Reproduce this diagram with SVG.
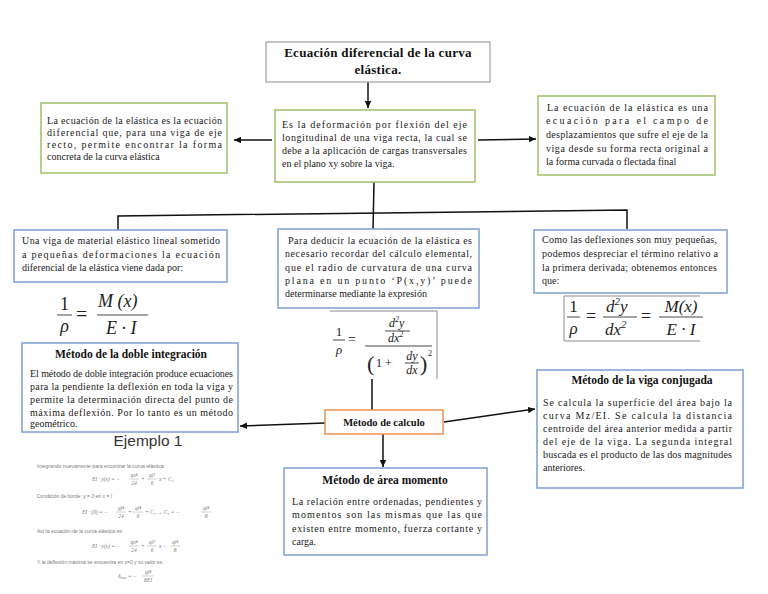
<svg xmlns="http://www.w3.org/2000/svg" width="768" height="594" viewBox="0 0 768 594">
<style>
.t{font-family:"Liberation Serif","Times New Roman",serif;font-size:10px;fill:#1a1a1a}
.b{font-family:"Liberation Serif","Times New Roman",serif;font-weight:bold;fill:#111}
.m{font-family:"Liberation Serif","Times New Roman",serif;fill:#222}
.i{font-style:italic}
.g{fill:#fff;stroke:#9cc06a;stroke-width:1.5}
.bl{fill:#fff;stroke:#7f9fcf;stroke-width:1.5}
.gr{fill:#fff;stroke:#a6a6a6;stroke-width:1.3}
.or{fill:#fff;stroke:#e89150;stroke-width:1.5}
.c{stroke:#111;stroke-width:1.5;fill:none}
.bar{stroke:#333;stroke-width:0.9}
.e{font-family:"Liberation Sans",Arial,sans-serif;font-size:5px;fill:#7a7a7a}
.ef{font-family:"Liberation Serif",serif;font-size:5.5px;fill:#7a7a7a;font-style:italic}
.eb{stroke:#8a8a8a;stroke-width:0.4}
</style>
<defs>
<marker id="ar" markerWidth="8" markerHeight="8" refX="7" refY="4" orient="auto" markerUnits="userSpaceOnUse">
<path d="M0,0.8 L7,4 L0,7.2 Z" fill="#111"/>
</marker>
</defs>
<rect width="768" height="594" fill="#fff"/>

<g id="connectors">
<line class="c" x1="368" y1="82" x2="368" y2="108" marker-end="url(#ar)"/>
<line class="c" x1="272" y1="140" x2="234" y2="140" marker-end="url(#ar)"/>
<line class="c" x1="478" y1="140" x2="536" y2="139" marker-end="url(#ar)"/>
<line class="c" x1="374" y1="182" x2="373" y2="230"/>
<polyline class="c" points="118,230 118,216 627,210 627,229"/>
<line class="c" x1="372" y1="379" x2="372" y2="410"/>
<line class="c" x1="325" y1="423" x2="240" y2="426" marker-end="url(#ar)"/>
<line class="c" x1="444" y1="422" x2="535" y2="409" marker-end="url(#ar)"/>
<line class="c" x1="383" y1="434" x2="383" y2="467" marker-end="url(#ar)"/>
</g>

<g id="title">
<rect class="gr" x="266" y="42" width="224" height="40"/>
<text class="b" x="378" y="57" font-size="13" text-anchor="middle" letter-spacing="0.3">Ecuación diferencial de la curva</text>
<text class="b" x="378" y="74" font-size="13" text-anchor="middle" letter-spacing="0.3">elástica.</text>
</g>

<g id="def-left">
<rect class="g" x="41" y="103" width="186" height="70"/>
<text class="t" x="47" y="124" textLength="175" lengthAdjust="spacing">La ecuación de la elástica es la ecuación</text>
<text class="t" x="47" y="136" textLength="175" lengthAdjust="spacing">diferencial que, para una viga de eje</text>
<text class="t" x="47" y="148" textLength="175" lengthAdjust="spacing">recto, permite encontrar la forma</text>
<text class="t" x="47" y="160">concreta de la curva elástica</text>
</g>

<g id="def-center">
<rect class="g" x="275" y="110" width="200" height="72"/>
<text class="t" x="282" y="128" textLength="185" lengthAdjust="spacing">Es la deformación  por flexión del eje</text>
<text class="t" x="282" y="141" textLength="185" lengthAdjust="spacing">longitudinal de una viga recta, la cual se</text>
<text class="t" x="282" y="154" textLength="185" lengthAdjust="spacing">debe a la aplicación de cargas transversales</text>
<text class="t" x="282" y="167">en el plano xy sobre la viga.</text>
</g>

<g id="def-right">
<rect class="g" x="538" y="96" width="177" height="79"/>
<text class="t" x="547" y="111" textLength="161" lengthAdjust="spacing">La ecuación de la elástica es una</text>
<text class="t" x="546" y="124" textLength="162" lengthAdjust="spacing">ecuación para el campo de</text>
<text class="t" x="546" y="138" textLength="162" lengthAdjust="spacing">desplazamientos que sufre el eje de la</text>
<text class="t" x="546" y="152" textLength="162" lengthAdjust="spacing">viga desde su forma recta original a</text>
<text class="t" x="546" y="165">la forma curvada o flectada final</text>
</g>

<g id="viga-lineal">
<rect class="bl" x="14" y="230" width="213" height="52"/>
<text class="t" x="22" y="244" textLength="198" lengthAdjust="spacing">Una viga de material elástico lineal sometido</text>
<text class="t" x="22" y="258" textLength="198" lengthAdjust="spacing">a pequeñas deformaciones la ecuación</text>
<text class="t" x="22" y="271">diferencial de la elástica viene dada por:</text>
</g>

<g id="formula-left">
<text class="m" x="64.5" y="310" font-size="18" text-anchor="middle">1</text>
<line class="bar" x1="57" y1="315" x2="72" y2="315" stroke-width="1.2"/>
<text class="m i" x="64.5" y="332" font-size="18" text-anchor="middle">ρ</text>
<text class="m" x="76" y="321" font-size="20">=</text>
<text class="m i" x="98" y="307" font-size="18">M (x)</text>
<line class="bar" x1="97" y1="315" x2="148" y2="315" stroke-width="1.2"/>
<text class="m i" x="106" y="334" font-size="18">E · I</text>
</g>

<g id="radio-curvatura">
<rect class="bl" x="278" y="229" width="201" height="79"/>
<text class="t" x="288" y="244" textLength="184" lengthAdjust="spacing">Para deducir la ecuación de la elástica es</text>
<text class="t" x="285" y="257" textLength="187" lengthAdjust="spacing">necesario recordar del cálculo elemental,</text>
<text class="t" x="285" y="271" textLength="187" lengthAdjust="spacing">que el radio de curvatura de una curva</text>
<text class="t" x="285" y="284" textLength="187" lengthAdjust="spacing">plana en un punto ‘P(x,y)’ puede</text>
<text class="t" x="285" y="297">determinarse mediante la expresión</text>
</g>

<g id="formula-center">
<polyline points="330,311 437,311 437,379" fill="none" stroke="#8a8a8a" stroke-width="1"/>
<text class="m" x="339" y="336" font-size="13" text-anchor="middle">1</text>
<line class="bar" x1="333" y1="340" x2="345" y2="340"/>
<text class="m i" x="339" y="354" font-size="13" text-anchor="middle">ρ</text>
<text class="m" x="348" y="344" font-size="14">=</text>
<text class="m i" x="389" y="327" font-size="12">d<tspan font-size="8" dy="-5">2</tspan><tspan dy="5">y</tspan></text>
<line class="bar" x1="385" y1="331" x2="410" y2="331"/>
<text class="m i" x="388" y="342" font-size="12">dx<tspan font-size="8" dy="-5">2</tspan></text>
<line class="bar" x1="365" y1="346" x2="432" y2="346"/>
<text class="m" x="367" y="371" font-size="22" fill="#333">(</text>
<text class="m" x="376" y="367" font-size="12">1 +</text>
<text class="m i" x="412" y="360" font-size="12" text-anchor="middle">dy</text>
<line class="bar" x1="405" y1="363" x2="419" y2="363"/>
<text class="m i" x="412" y="374" font-size="12" text-anchor="middle">dx</text>
<text class="m" x="420" y="371" font-size="22" fill="#333">)</text>
<text class="m" x="428" y="356" font-size="8">2</text>
</g>

<g id="pequenas">
<rect class="bl" x="534" y="230" width="193" height="63"/>
<text class="t" x="542" y="243" textLength="175" lengthAdjust="spacing">Como las deflexiones son muy pequeñas,</text>
<text class="t" x="542" y="257" textLength="176" lengthAdjust="spacing">podemos despreciar el término relativo a</text>
<text class="t" x="542" y="271" textLength="175" lengthAdjust="spacing">la primera derivada; obtenemos entonces</text>
<text class="t" x="542" y="284">que:</text>
</g>

<g id="formula-right">
<polyline points="700,296 564,296 564,341 700,341" fill="none" stroke="#8a8a8a" stroke-width="1"/>
<text class="m" x="573.5" y="312" font-size="17" text-anchor="middle">1</text>
<line class="bar" x1="567" y1="317" x2="580" y2="317" stroke-width="1.1"/>
<text class="m i" x="573.5" y="334" font-size="17" text-anchor="middle">ρ</text>
<text class="m" x="586" y="322" font-size="18">=</text>
<text class="m i" x="606" y="312" font-size="17">d<tspan font-size="11" dy="-7">2</tspan><tspan dy="7">y</tspan></text>
<line class="bar" x1="603" y1="317" x2="637" y2="317" stroke-width="1.1"/>
<text class="m i" x="605" y="335" font-size="17">dx<tspan font-size="11" dy="-7">2</tspan></text>
<text class="m" x="641" y="322" font-size="18">=</text>
<text class="m i" x="681" y="312" font-size="17" text-anchor="middle">M(x)</text>
<line class="bar" x1="659" y1="317" x2="703" y2="317" stroke-width="1.1"/>
<text class="m i" x="681" y="335" font-size="17" text-anchor="middle">E · I</text>
</g>

<g id="doble-integracion">
<rect class="bl" x="22" y="343" width="216" height="89"/>
<text class="b" x="131" y="358" font-size="11.5" text-anchor="middle">Método de la doble integración</text>
<text class="t" x="30" y="377" textLength="203" lengthAdjust="spacing">El método de doble integración produce ecuaciones</text>
<text class="t" x="30" y="390" textLength="203" lengthAdjust="spacing">para la pendiente la deflexión en toda la viga y</text>
<text class="t" x="30" y="403" textLength="203" lengthAdjust="spacing">permite la determinación directa del punto de</text>
<text class="t" x="30" y="416" textLength="203" lengthAdjust="spacing">máxima deflexión. Por lo tanto es un método</text>
<text class="t" x="30" y="427">geométrico.</text>
</g>

<g id="calculo">
<rect class="or" x="325" y="410" width="118" height="24"/>
<text class="b" x="384" y="426" font-size="10.5" text-anchor="middle">Método de calculo</text>
</g>

<g id="viga-conjugada">
<rect class="bl" x="537" y="370" width="206" height="118"/>
<text class="b" x="642" y="384" font-size="11.5" text-anchor="middle">Método de la viga conjugada</text>
<text class="t" x="543" y="406" textLength="189" lengthAdjust="spacing">Se calcula la superficie del área bajo la</text>
<text class="t" x="543" y="419" textLength="189" lengthAdjust="spacing">curva Mz/EI. Se calcula la distancia</text>
<text class="t" x="543" y="432" textLength="189" lengthAdjust="spacing">centroide del área anterior medida a partir</text>
<text class="t" x="543" y="445" textLength="189" lengthAdjust="spacing">del eje de la viga. La segunda integral</text>
<text class="t" x="543" y="458" textLength="189" lengthAdjust="spacing">buscada es el producto de las dos magnitudes</text>
<text class="t" x="543" y="471">anteriores.</text>
</g>

<g id="area-momento">
<rect class="bl" x="284" y="468" width="203" height="87"/>
<text class="b" x="385" y="484" font-size="11.5" text-anchor="middle">Método de área momento</text>
<text class="t" x="292" y="505" textLength="190" lengthAdjust="spacing">La relación entre ordenadas, pendientes y</text>
<text class="t" x="292" y="518" textLength="190" lengthAdjust="spacing">momentos son las mismas que las que</text>
<text class="t" x="292" y="532" textLength="190" lengthAdjust="spacing">existen entre momento, fuerza cortante y</text>
<text class="t" x="292" y="545">carga.</text>
</g>

<g id="ejemplo">
<text x="148" y="446" font-family="Liberation Sans,Arial,sans-serif" font-size="15.5" fill="#333" text-anchor="middle">Ejemplo 1</text>
<text class="e" x="37" y="468" textLength="128" lengthAdjust="spacingAndGlyphs">Integrando nuevamente para encontrar la curva elástica:</text>
<text class="ef" x="92" y="481">EI · y(x) = −</text>
<text class="ef" x="134" y="477" text-anchor="middle">qx⁴</text><line class="eb" x1="129" y1="479" x2="139" y2="479"/><text class="ef" x="134" y="485" text-anchor="middle">24</text>
<text class="ef" x="141" y="481">+</text>
<text class="ef" x="152" y="477" text-anchor="middle">ql³</text><line class="eb" x1="147" y1="479" x2="157" y2="479"/><text class="ef" x="152" y="485" text-anchor="middle">6</text>
<text class="ef" x="159" y="481">x + C₂</text>
<text class="e" x="37" y="498">Condición de borde:   <tspan font-style="italic">y = 0 en x = l</tspan></text>
<text class="ef" x="82" y="514">EI · (0) = −</text>
<text class="ef" x="121" y="510" text-anchor="middle">ql⁴</text><line class="eb" x1="116" y1="512" x2="126" y2="512"/><text class="ef" x="121" y="518" text-anchor="middle">24</text>
<text class="ef" x="128" y="514">+</text>
<text class="ef" x="138" y="510" text-anchor="middle">ql⁴</text><line class="eb" x1="133" y1="512" x2="143" y2="512"/><text class="ef" x="138" y="518" text-anchor="middle">6</text>
<text class="ef" x="145" y="514">+ C₂   →    C₂ = −</text>
<text class="ef" x="206" y="510" text-anchor="middle">ql⁴</text><line class="eb" x1="201" y1="512" x2="211" y2="512"/><text class="ef" x="206" y="518" text-anchor="middle">8</text>
<text class="e" x="37" y="533">Así la ecuación de la curva elástica es:</text>
<text class="ef" x="92" y="548">EI · y(x) = −</text>
<text class="ef" x="134" y="544" text-anchor="middle">qx⁴</text><line class="eb" x1="129" y1="546" x2="139" y2="546"/><text class="ef" x="134" y="552" text-anchor="middle">24</text>
<text class="ef" x="141" y="548">+</text>
<text class="ef" x="152" y="544" text-anchor="middle">ql³</text><line class="eb" x1="147" y1="546" x2="157" y2="546"/><text class="ef" x="152" y="552" text-anchor="middle">6</text>
<text class="ef" x="159" y="548">x −</text>
<text class="ef" x="175" y="544" text-anchor="middle">ql⁴</text><line class="eb" x1="170" y1="546" x2="180" y2="546"/><text class="ef" x="175" y="552" text-anchor="middle">8</text>
<text class="e" x="37" y="564">Y la deflexión máxima se encuentra en x=0 y su valor es:</text>
<text class="ef" x="118" y="578">δ<tspan font-size="3.5" dy="1">max</tspan><tspan dy="-1"> = −</tspan></text>
<text class="ef" x="148" y="574" text-anchor="middle">ql⁴</text><line class="eb" x1="142" y1="576" x2="154" y2="576"/><text class="ef" x="148" y="582" text-anchor="middle">8EI</text>
</g>
</svg>
